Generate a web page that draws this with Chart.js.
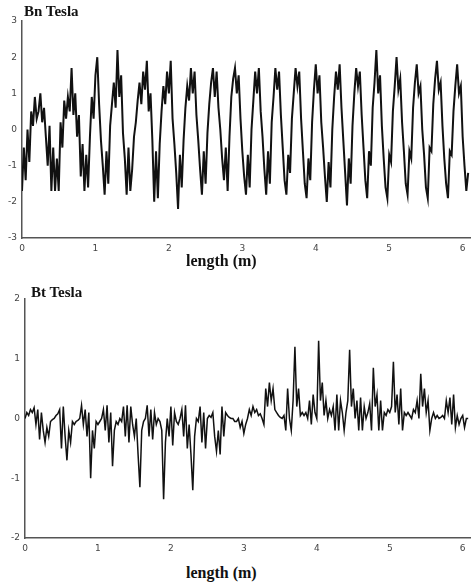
<!DOCTYPE html>
<html>
<head>
<meta charset="utf-8">
<script src="https://cdn.jsdelivr.net/npm/chart.js@4"></script>
<style>
  body { margin: 0; background: #fff; width: 474px; height: 582px; position: relative; overflow: hidden; }
  .box { position: absolute; left: 0; width: 474px; }
  .title { position: absolute; font: bold 15px "Liberation Serif", serif; color: #111; }
  .xlab { position: absolute; font: bold 16px "Liberation Serif", serif; color: #111; }
</style>
</head>
<body>
<div class="box" style="top:0;height:252px"><canvas id="bnChart"></canvas></div>
<div class="box" style="top:280px;height:272px"><canvas id="btChart"></canvas></div>
<div class="title" style="left:24px;top:3px">Bn Tesla</div>
<div class="title" style="left:31px;top:284px">Bt Tesla</div>
<div class="xlab" style="left:186px;top:252px">length (m)</div>
<div class="xlab" style="left:186px;top:564px">length (m)</div>
<script>
// sample spacing along the length (m)
const step = 0.025;

// Bn (normal component), Tesla
const bnValues = [
  -1.7,-0.5,-1.4,0.0,-0.9,0.5,0.1,0.9,0.3,0.5,1.0,0.2,0.6,-0.2,
  -1.0,0.1,-1.7,-0.5,-1.7,-0.8,-1.7,0.2,-0.5,0.8,0.3,0.9,0.5,1.7,
  0.4,1.0,-0.2,0.4,-1.3,-0.4,-1.7,-0.7,-1.6,-0.2,0.9,0.3,1.5,2.0,
  0.7,-0.3,-1.0,-1.8,-0.6,-1.5,0.1,0.7,1.3,0.6,2.2,0.9,1.5,-0.1,
  -0.8,-1.8,-0.5,-1.7,-1.1,-0.2,0.2,0.8,1.3,0.7,1.6,1.1,1.9,0.5,
  1.0,-0.3,-2.0,-0.6,-1.9,-0.4,0.5,1.2,0.7,1.6,1.0,1.9,0.3,-0.4,
  -1.2,-2.2,-0.7,-1.6,-0.3,0.6,1.2,0.8,1.7,1.0,1.6,0.4,-0.3,-1.1,
  -1.8,-0.6,-1.5,-0.1,0.7,1.3,1.7,0.9,1.6,0.6,0.0,-0.8,-1.4,-0.5,
  -1.7,-0.2,0.9,1.4,1.7,1.0,1.5,0.3,-0.6,-1.3,-1.8,-0.7,-1.6,0.0,
  0.8,1.6,1.0,1.7,0.5,-0.2,-1.1,-1.8,-0.6,-1.5,0.2,0.9,1.7,1.1,
  1.6,0.4,-0.5,-1.4,-1.8,-0.7,-1.2,0.3,1.0,1.7,1.2,1.6,0.3,-0.6,
  -1.5,-1.9,-0.8,-1.4,0.2,1.1,1.8,1.0,1.5,0.2,-0.5,-1.3,-2.0,-0.9,
  -1.6,0.0,0.9,1.6,1.1,1.8,0.6,-0.3,-1.2,-2.1,-0.8,-1.5,0.1,1.0,
  1.7,1.2,1.6,0.4,-0.5,-1.4,-1.9,-0.6,-1.0,0.6,1.3,2.2,1.0,1.5,
  0.1,-0.8,-1.6,-1.9,-0.7,-0.9,0.5,1.2,2.0,1.1,1.4,0.2,-0.6,-1.5,
  -1.8,-0.6,-0.8,0.6,1.3,1.8,1.0,1.2,0.0,-0.7,-1.6,-1.9,-0.5,-0.6,
  0.7,1.4,1.9,1.1,1.3,0.1,-0.8,-1.5,-1.9,-0.6,-0.7,0.5,1.2,1.8,
  1.0,1.2,-0.2,-1.0,-1.7,-1.2
];

// Bt (tangential component), Tesla
const btValues = [
  0.0,0.1,0.05,0.15,0.1,0.18,-0.1,0.15,-0.35,0.1,-0.2,-0.4,-0.15,-0.3,
  -0.05,-0.02,0.0,0.05,0.08,0.15,-0.5,0.2,-0.3,-0.7,-0.2,-0.4,-0.05,-0.1,
  -0.05,-0.03,0.0,0.22,-0.1,0.15,-0.3,0.1,-1.0,-0.2,-0.5,-0.05,-0.1,-0.05,
  0.0,0.15,-0.2,0.22,-0.4,0.1,-0.8,-0.2,-0.05,-0.1,0.0,-0.05,0.2,-0.3,
  0.22,-0.4,0.2,-0.1,-0.3,0.0,-0.6,-1.15,-0.2,-0.05,0.0,0.22,-0.3,0.15,
  -0.35,0.1,-0.1,0.0,-0.05,-0.2,-1.35,-0.4,0.0,-0.3,0.2,-0.45,0.1,-0.05,
  -0.1,0.0,0.15,-0.3,0.22,-0.5,-0.1,-0.6,-1.2,-0.3,0.0,-0.05,0.2,-0.4,
  0.1,-0.5,0.0,0.05,0.02,0.1,-0.3,-0.55,-0.2,-0.6,0.2,-0.3,0.1,0.05,
  0.02,0.0,0.0,-0.05,-0.05,0.0,-0.15,-0.05,-0.25,-0.1,0.0,0.15,0.05,0.2,
  0.1,0.15,0.05,0.08,0.0,-0.1,0.5,0.2,0.6,0.3,0.5,0.15,0.1,0.05,
  0.02,0.0,0.05,-0.2,0.5,0.0,-0.2,0.3,1.2,0.2,0.5,0.05,0.1,0.05,
  0.1,0.0,0.3,-0.1,0.4,0.1,0.0,1.3,0.3,0.6,0.05,0.3,0.0,0.15,
  0.05,0.2,-0.2,0.4,-0.2,0.3,0.1,-0.2,0.1,0.3,1.15,0.2,0.5,0.0,
  0.3,-0.2,0.35,-0.2,0.2,0.0,0.1,0.25,-0.2,0.85,0.2,0.4,-0.2,0.3,
  -0.2,0.1,0.05,0.15,0.1,0.2,0.95,0.1,0.4,-0.1,0.5,-0.2,0.1,0.05,
  0.1,0.05,0.0,0.15,0.1,0.3,0.0,0.75,0.2,0.5,0.1,0.3,-0.2,0.0,
  0.1,0.0,0.05,0.0,0.02,0.05,0.0,0.3,0.1,0.35,-0.1,0.4,-0.15,0.05,
  -0.1,0.0,0.05,-0.15,0.0,0.0
];

const xTicks = [0, 1, 2, 3, 4, 5, 6];

function toPoints(vals) {
  return vals.map((v, i) => ({ x: i * step, y: v }));
}

function makeChart(id, vals, ymin, ymax, yWidth, pad, lw) {
  const ctx = document.getElementById(id).getContext('2d');
  return new Chart(ctx, {
    type: 'line',
    data: {
      datasets: [{
        data: toPoints(vals),
        borderColor: '#111',
        borderWidth: lw,
        pointRadius: 0,
        tension: 0
      }]
    },
    options: {
      responsive: true,
      maintainAspectRatio: false,
      animation: false,
      layout: { padding: pad },
      plugins: { legend: { display: false }, tooltip: { enabled: false } },
      scales: {
        x: {
          type: 'linear', min: 0, max: 6.1,
          afterBuildTicks: axis => { axis.ticks = xTicks.map(v => ({ value: v })); },
          afterFit: axis => { axis.height = 14; },
          grid: { display: false, drawTicks: true, tickLength: 3 },
          border: { color: '#555', width: 1.5 },
          ticks: { color: '#444', font: { size: 9, family: 'DejaVu Sans' }, padding: 2, maxRotation: 0 }
        },
        y: {
          min: ymin, max: ymax,
          afterFit: axis => { axis.width = yWidth; },
          grid: { display: false, tickLength: 3 },
          border: { color: '#555', width: 1.5 },
          ticks: { stepSize: 1, color: '#444', font: { size: 9, family: 'DejaVu Sans' }, padding: 2 }
        }
      }
    }
  });
}

makeChart('bnChart', bnValues, -3, 3, 22, { top: 21, right: 4, left: 0, bottom: 0 }, 2);
makeChart('btChart', btValues, -2, 2, 25, { top: 19, right: 4, left: 0, bottom: 0 }, 1.5);
</script>
</body>
</html>
